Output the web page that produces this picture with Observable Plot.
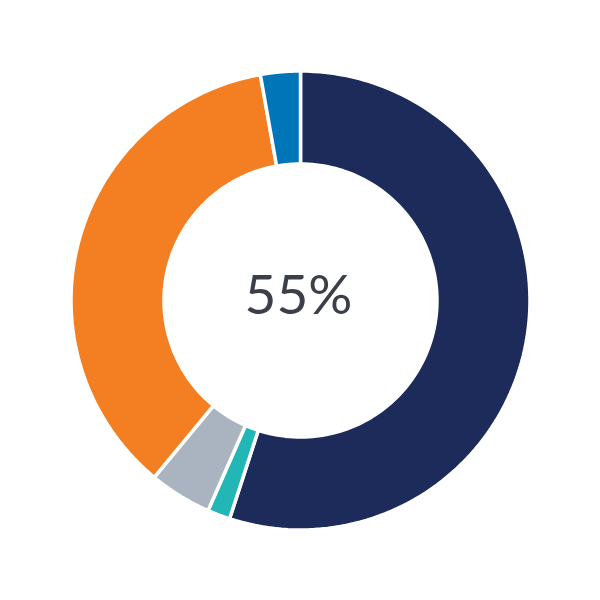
<!DOCTYPE html>
<html>
<head>
<meta charset="utf-8">
<script src="https://cdn.jsdelivr.net/npm/d3@7"></script>
<script src="https://cdn.jsdelivr.net/npm/@observablehq/plot@0.6"></script>
<style>
  html, body { margin: 0; padding: 0; background: #ffffff; }
  #chart { width: 600px; height: 600px; }
</style>
</head>
<body>
<div id="chart"></div>
<script>
// Data (clockwise from 12 o'clock)
const categories = ["Segment 1", "Segment 2", "Segment 3", "Segment 4", "Segment 5"];
const values = [55, 1.6, 4.4, 36.2, 2.8];
const colors = ["#1c2b5a", "#22b6b6", "#aab4c1", "#f37f22", "#0075b8"];
const centerLabel = ["55%"];

// Geometry (styles)
const outerR = 229.5;
const innerR = 136.5;
const steps = 120;

const pie = d3.pie().sort(null).value(d => d.value).startAngle(0).endAngle(2 * Math.PI);
const arcs = pie(categories.map((c, i) => ({cat: c, value: values[i]})));

const pts = [];
for (const a of arcs) {
  const ring = [];
  for (let k = 0; k <= steps; k++) {
    const t = a.startAngle + (a.endAngle - a.startAngle) * k / steps;
    ring.push({cat: a.data.cat, x: outerR * Math.sin(t), y: outerR * Math.cos(t)});
  }
  for (let k = steps; k >= 0; k--) {
    const t = a.startAngle + (a.endAngle - a.startAngle) * k / steps;
    ring.push({cat: a.data.cat, x: innerR * Math.sin(t), y: innerR * Math.cos(t)});
  }
  ring.push(ring[0]);
  pts.push(...ring);
}

const chart = Plot.plot({
  width: 600,
  height: 600,
  margin: 0,
  x: {domain: [-300, 300], axis: null},
  y: {domain: [-300, 300], axis: null},
  color: {domain: categories, range: colors},
  marks: [
    Plot.line(pts, {x: "x", y: "y", z: "cat", fill: "cat", stroke: "white", strokeWidth: 3.5, strokeLinejoin: "miter"}),
    Plot.text(centerLabel, {
      frameAnchor: "middle",
      text: d => d,
      fontSize: 55,
      fontFamily: "Lato, 'Open Sans', sans-serif",
      fill: "#3a3f48",
      dx: -2,
      dy: -4
    })
  ]
});
document.getElementById("chart").appendChild(chart);
</script>
</body>
</html>
